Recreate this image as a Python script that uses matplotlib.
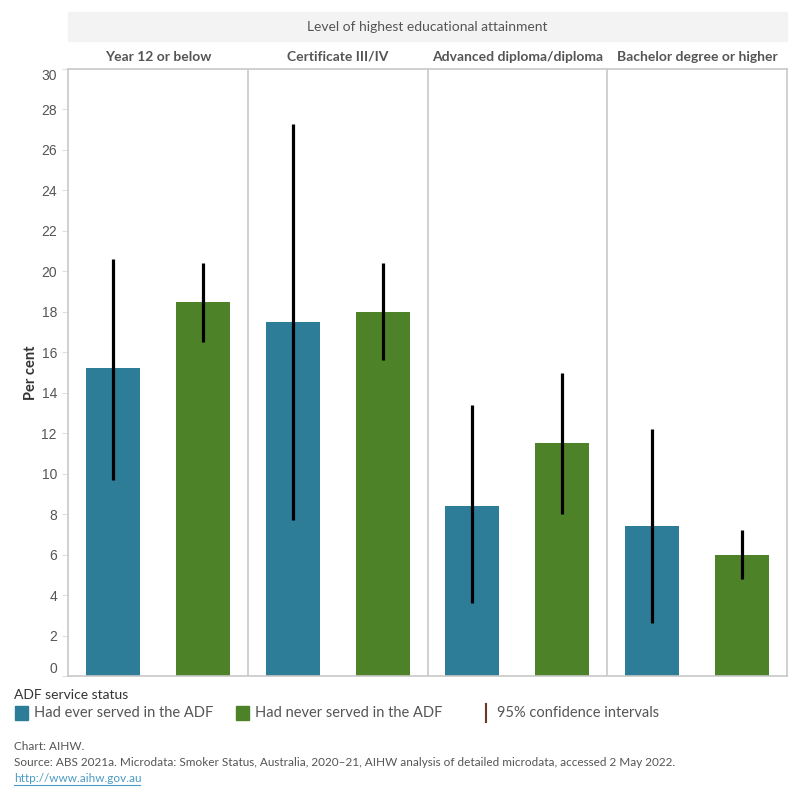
import matplotlib.pyplot as plt
import numpy as np

plt.rcParams["font.family"] = ["Lato", "DejaVu Sans"]

# data
levels = ["Year 12 or below", "Certificate III/IV", "Advanced diploma/diploma", "Bachelor degree or higher"]
ever_served = [15.2, 17.5, 8.4, 7.4]
ever_lo = [9.7, 7.7, 3.6, 2.6]
ever_hi = [20.6, 27.3, 13.4, 12.2]
never_served = [18.5, 18.0, 11.5, 6.0]
never_lo = [16.5, 15.6, 8.0, 4.8]
never_hi = [20.4, 20.4, 15.0, 7.2]
yticks = list(range(0, 31, 2))

TEAL = "#2d7d98"
GREEN = "#4e8228"
GRID = "#c8c8c8"
TXT = "#555555"

fig = plt.figure(figsize=(8, 8), dpi=100)
ax = fig.add_axes([68 / 800, 1 - 676 / 800, (787 - 68) / 800, (676 - 69) / 800])

n = len(levels)
x0 = np.arange(n) * 2 + 0.5
x1 = np.arange(n) * 2 + 1.5
ax.bar(x0, ever_served, width=0.6, color=TEAL, zorder=2)
ax.bar(x1, never_served, width=0.6, color=GREEN, zorder=2)
ax.vlines(x0, ever_lo, ever_hi, color="black", lw=2.3, zorder=3)
ax.vlines(x1, never_lo, never_hi, color="black", lw=2.3, zorder=3)

ax.set_xlim(0, 2 * n)
ax.set_ylim(0, 30)
ax.set_xticks([])
ax.set_yticks(yticks)
ax.set_yticklabels([str(v) for v in yticks], family=["Liberation Sans", "DejaVu Sans"])
ax.tick_params(axis="y", length=4, color="#e0e0e0", labelcolor=TXT, labelsize=10, pad=4)
labels = ax.get_yticklabels()
labels[0].set_verticalalignment("bottom")
labels[-1].set_verticalalignment("top")

for side in ["left", "bottom", "right", "top"]:
    ax.spines[side].set_color(GRID)
    ax.spines[side].set_linewidth(1.2)
for i in range(1, n):
    ax.axvline(2 * i, color=GRID, lw=1.2, zorder=1)

ax.set_ylabel("Per cent", fontsize=10.5, fontweight="bold", color="#333333", labelpad=2)

# column headers
for i, lab in enumerate(levels):
    ax.text(2 * i + 1, 30.6, lab, ha="center", va="center", fontsize=10, fontweight="bold", color=TXT)

# top header band
fig.patches.append(plt.Rectangle((68 / 800, 1 - 41 / 800), (787 - 68) / 800, 29 / 800,
                                 transform=fig.transFigure, color="#f3f3f3", zorder=0))
fig.text((68 + 787) / 2 / 800, 1 - 27 / 800, "Level of highest educational attainment",
         ha="center", va="center", fontsize=10, color=TXT)

# legend
fig.text(14 / 800, 1 - 695 / 800, "ADF service status", fontsize=10, color="#333333", va="center")
fig.patches.append(plt.Rectangle((15 / 800, 1 - 720 / 800), 13 / 800, 14 / 800,
                                 transform=fig.transFigure, color=TEAL))
fig.text(34 / 800, 1 - 713 / 800, "Had ever served in the ADF", fontsize=10.5, color=TXT, va="center")
fig.patches.append(plt.Rectangle((236 / 800, 1 - 720 / 800), 13 / 800, 14 / 800,
                                 transform=fig.transFigure, color=GREEN))
fig.text(255 / 800, 1 - 713 / 800, "Had never served in the ADF", fontsize=10.5, color=TXT, va="center")
fig.lines.append(plt.Line2D([486 / 800, 486 / 800], [1 - 722 / 800, 1 - 704 / 800],
                            transform=fig.transFigure, color="#6b3a1e", lw=1.5))
fig.text(497 / 800, 1 - 713 / 800, "95% confidence intervals", fontsize=10.5, color=TXT, va="center")

# footer
fig.text(14 / 800, 1 - 746 / 800, "Chart: AIHW.", fontsize=8.45, color=TXT, va="center")
fig.text(14 / 800, 1 - 762 / 800,
         "Source: ABS 2021a. Microdata: Smoker Status, Australia, 2020\u201321, AIHW analysis of detailed microdata, accessed 2 May 2022.",
         fontsize=8.45, color=TXT, va="center")
fig.text(14 / 800, 1 - 778 / 800, "http://www.aihw.gov.au", fontsize=8.45, color="#4a9cc4", va="center")
fig.lines.append(plt.Line2D([14 / 800, 140 / 800], [1 - 785 / 800, 1 - 785 / 800],
                            transform=fig.transFigure, color="#4a9cc4", lw=0.8))

fig.savefig("out.png", dpi=100)
